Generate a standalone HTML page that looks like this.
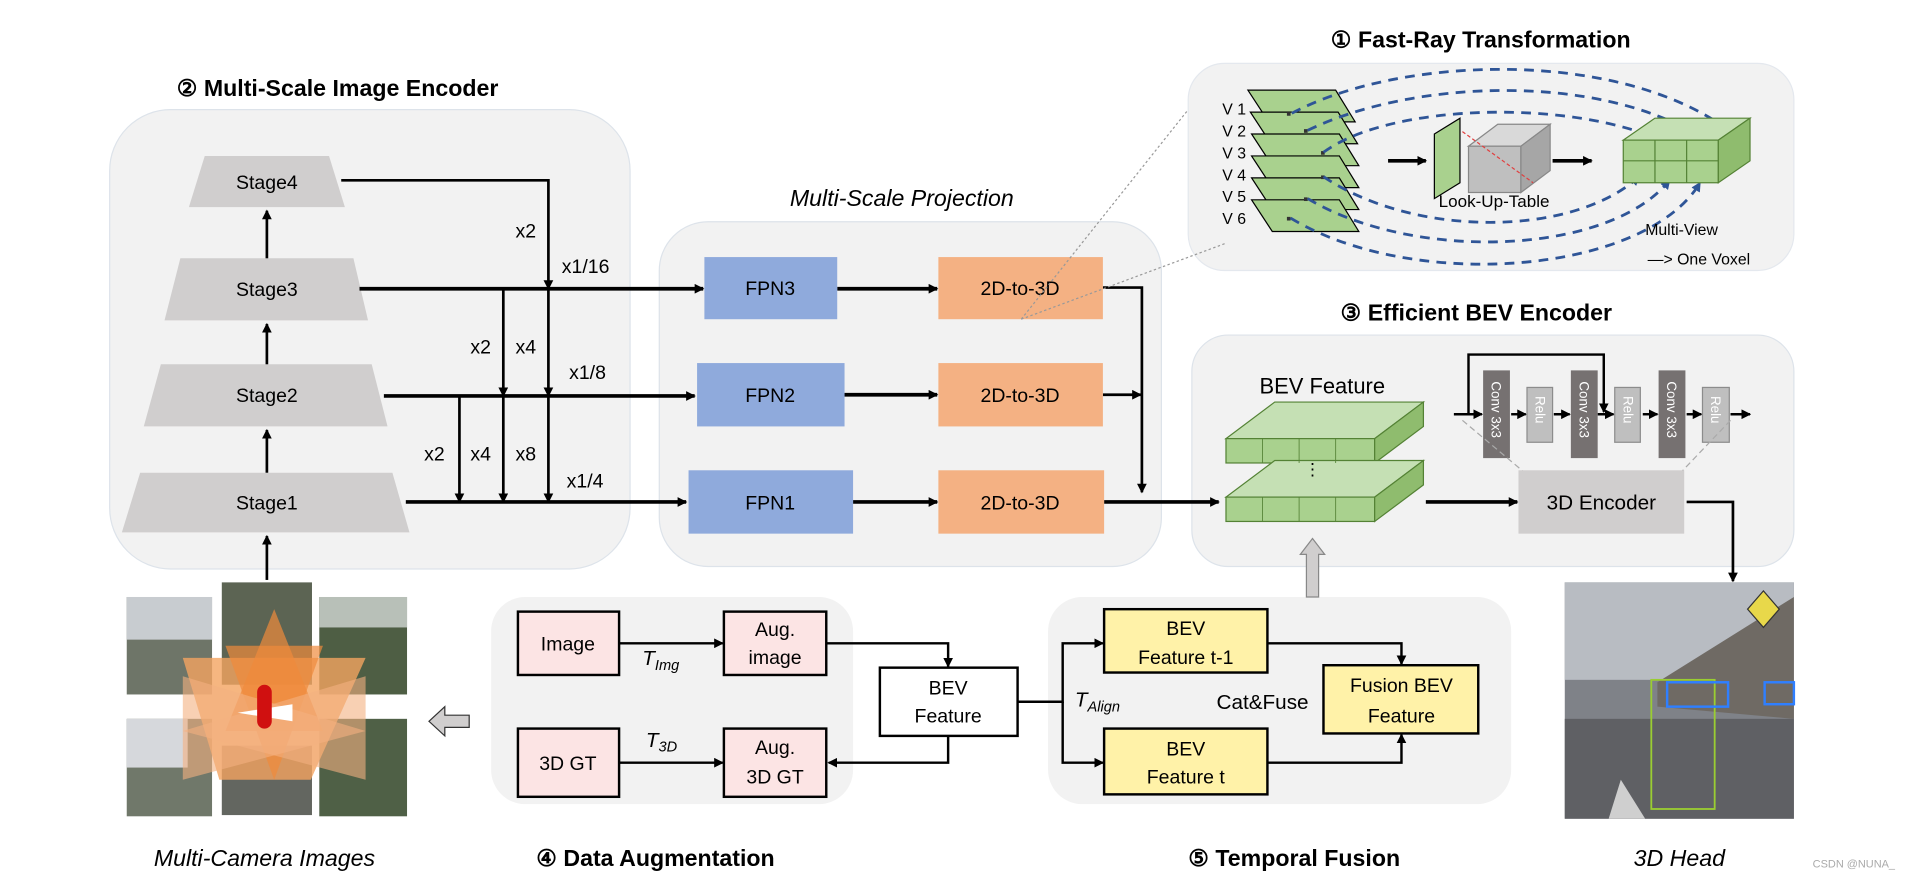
<!DOCTYPE html>
<html><head><meta charset="utf-8"><style>
html,body{margin:0;padding:0;background:#fff;}
svg{display:block}
text{font-family:"Liberation Sans",sans-serif;}
</style></head><body>
<svg width="1906" height="876" viewBox="0 0 1564 719" preserveAspectRatio="none" xmlns="http://www.w3.org/2000/svg">
<defs>
<marker id="a" markerWidth="8" markerHeight="8" refX="7" refY="4" orient="auto" markerUnits="userSpaceOnUse"><path d="M0,0 L8,4 L0,8 Z" fill="#000"/></marker>
<marker id="b" markerWidth="8" markerHeight="8" refX="7" refY="4" orient="auto" markerUnits="userSpaceOnUse"><path d="M0,0 L8,4 L0,8 Z" fill="#2f5597"/></marker>
</defs>
<!-- panels -->
<rect x="90" y="90" width="427" height="377" rx="50" fill="#f2f2f2" stroke="#dde3ea"/>
<rect x="541" y="182" width="412" height="283" rx="40" fill="#f2f2f2" stroke="#dde3ea"/>
<rect x="975" y="52" width="497" height="170" rx="30" fill="#f2f2f2" stroke="#e4e8ee"/>
<rect x="978" y="275" width="494" height="190" rx="30" fill="#f2f2f2" stroke="#dde3ea"/>
<rect x="403" y="490" width="297" height="170" rx="28" fill="#f2f2f2"/>
<rect x="860" y="490" width="380" height="170" rx="28" fill="#f2f2f2"/>

<!-- titles -->
<g font-weight="bold" font-size="19">
<text x="145" y="79">② Multi-Scale Image Encoder</text>
<text x="1092" y="39">① Fast-Ray Transformation</text>
<text x="1100" y="263">③ Efficient BEV  Encoder</text>
<text x="440" y="711">④ Data Augmentation</text>
<text x="975" y="711">⑤ Temporal Fusion</text>
</g>
<g font-style="italic" font-size="19">
<text x="740" y="169" text-anchor="middle">Multi-Scale Projection</text>
<text x="217" y="711" text-anchor="middle">Multi-Camera Images</text>
<text x="1378" y="711" text-anchor="middle">3D Head</text>
</g>
<text x="1555" y="712" font-size="9" fill="#aaa" text-anchor="end">CSDN @NUNA_</text>

<!-- stages -->
<g fill="#d0cece">
<polygon points="168,128 270,128 283,170 155,170"/>
<polygon points="148,212 290,212 302,263 135,263"/>
<polygon points="132,299 305,299 318,350 118,350"/>
<polygon points="115,388 322,388 336,437 100,437"/>
</g>
<g font-size="16" text-anchor="middle">
<text x="219" y="155">Stage4</text><text x="219" y="243">Stage3</text>
<text x="219" y="330">Stage2</text><text x="219" y="418">Stage1</text>
</g>
<g stroke="#000" stroke-width="2.2" fill="none" marker-end="url(#a)">
<line x1="219" y1="212" x2="219" y2="173"/>
<line x1="219" y1="299" x2="219" y2="266"/>
<line x1="219" y1="388" x2="219" y2="353"/>
<line x1="219" y1="476" x2="219" y2="440"/>
<polyline points="280,148 450,148 450,237"/>
<line x1="450" y1="237" x2="450" y2="325"/>
<line x1="450" y1="325" x2="450" y2="412"/>
<line x1="413" y1="237" x2="413" y2="325"/>
<line x1="413" y1="325" x2="413" y2="412"/>
<line x1="377" y1="325" x2="377" y2="412"/>
<line x1="295" y1="237" x2="577" y2="237" stroke-width="3"/>
<line x1="315" y1="325" x2="570" y2="325" stroke-width="3"/>
<line x1="333" y1="412" x2="563" y2="412" stroke-width="3"/>
<line x1="687" y1="237" x2="769" y2="237" stroke-width="3"/>
<line x1="693" y1="324" x2="769" y2="324" stroke-width="3"/>
<line x1="700" y1="412" x2="769" y2="412" stroke-width="3"/>
<polyline points="905,236 937,236 937,404"/>
<line x1="905" y1="324" x2="936" y2="324"/>
<line x1="906" y1="412" x2="1000" y2="412" stroke-width="3"/>
<line x1="1170" y1="412" x2="1245" y2="412" stroke-width="3"/>
<polyline points="1384,412 1422,412 1422,477"/>
</g>
<g font-size="16">
<text x="423" y="195">x2</text><text x="461" y="224">x1/16</text>
<text x="386" y="290">x2</text><text x="423" y="290">x4</text><text x="467" y="311">x1/8</text>
<text x="348" y="378">x2</text><text x="386" y="378">x4</text><text x="423" y="378">x8</text><text x="465" y="400">x1/4</text>
</g>

<!-- FPN / 2D-to-3D -->
<g fill="#8faadc">
<rect x="578" y="211" width="109" height="51"/><rect x="572" y="298" width="121" height="52"/><rect x="565" y="386" width="135" height="52"/>
</g>
<g fill="#f4b183">
<rect x="770" y="211" width="135" height="51"/><rect x="770" y="298" width="135" height="52"/><rect x="770" y="386" width="136" height="52"/>
</g>
<g font-size="16" text-anchor="middle">
<text x="632" y="242">FPN3</text><text x="632" y="330">FPN2</text><text x="632" y="418">FPN1</text>
<text x="837" y="242">2D-to-3D</text><text x="837" y="330">2D-to-3D</text><text x="837" y="418">2D-to-3D</text>
</g>
<line x1="838" y1="262" x2="975" y2="90" stroke="#999" stroke-dasharray="2,2"/>
<line x1="838" y1="262" x2="1005" y2="200" stroke="#999" stroke-dasharray="2,2"/>

<!-- Fast-Ray contents -->
<g font-size="13">
<text x="1003" y="94">V 1</text><text x="1003" y="112">V 2</text><text x="1003" y="130">V 3</text>
<text x="1003" y="148">V 4</text><text x="1003" y="166">V 5</text><text x="1003" y="184">V 6</text>
</g>
<g fill="#a9d18e" stroke="#000" stroke-width="1">
<polygon points="1024,74 1096,74 1112,100 1041,100"/>
<polygon points="1026,92 1098,92 1114,118 1043,118"/>
<polygon points="1027,110 1099,110 1115,136 1044,136"/>
<polygon points="1027,128 1099,128 1115,154 1044,154"/>
<polygon points="1027,146 1099,146 1115,172 1044,172"/>
<polygon points="1027,164 1099,164 1115,190 1044,190"/>
</g>
<g fill="#333"><rect x="1056" y="92" width="3" height="3"/><rect x="1070" y="106" width="3" height="3"/><rect x="1084" y="124" width="3" height="3"/><rect x="1084" y="144" width="3" height="3"/><rect x="1070" y="162" width="3" height="3"/><rect x="1056" y="178" width="3" height="3"/></g>
<g fill="none" stroke="#2f5597" stroke-width="2.3" stroke-dasharray="8,6">
<path d="M1060,93 C1150,45 1330,40 1420,108" marker-end="url(#b)"/>
<path d="M1073,107 C1160,65 1310,60 1395,112" marker-end="url(#b)"/>
<path d="M1086,125 C1140,85 1290,80 1370,118" marker-end="url(#b)"/>
<path d="M1086,145 C1160,195 1290,195 1345,145" marker-end="url(#b)"/>
<path d="M1073,163 C1160,215 1320,210 1370,148" marker-end="url(#b)"/>
<path d="M1059,179 C1160,240 1350,225 1395,150" marker-end="url(#b)"/>
</g>
<line x1="1139" y1="132" x2="1170" y2="132" stroke="#000" stroke-width="3" marker-end="url(#a)"/>
<line x1="1274" y1="132" x2="1306" y2="132" stroke="#000" stroke-width="3" marker-end="url(#a)"/>
<polygon points="1177,110 1198,97 1198,150 1177,163" fill="#a9d18e" stroke="#000"/>
<polygon points="1205,120 1248,120 1272,102 1229,102" fill="#d9d9d9" stroke="#888"/>
<rect x="1205" y="120" width="43" height="38" fill="#bfbfbf" stroke="#888"/>
<polygon points="1248,120 1272,102 1272,140 1248,158" fill="#a6a6a6" stroke="#888"/>
<line x1="1200" y1="108" x2="1258" y2="150" stroke="#e04040" stroke-dasharray="3,2"/>
<text x="1226" y="170" font-size="14" text-anchor="middle">Look-Up-Table</text>
<g stroke="#548235" stroke-width="1">
<polygon points="1332,115 1410,115 1436,97 1358,97" fill="#c5e0b4"/>
<rect x="1332" y="115" width="78" height="35" fill="#a9d18e"/>
<polygon points="1410,115 1436,97 1436,132 1410,150" fill="#8fbc6e"/>
<line x1="1358" y1="115" x2="1358" y2="150"/><line x1="1384" y1="115" x2="1384" y2="150"/><line x1="1332" y1="132" x2="1410" y2="132"/>
</g>
<text x="1350" y="193" font-size="13">Multi-View</text>
<text x="1352" y="217" font-size="13">—&gt; One Voxel</text>

<!-- BEV Encoder contents -->
<text x="1085" y="323" font-size="18" text-anchor="middle">BEV Feature</text>
<g stroke="#548235" stroke-width="1">
<polygon points="1006,360 1128,360 1168,330 1046,330" fill="#c5e0b4"/>
<rect x="1006" y="360" width="122" height="20" fill="#a9d18e"/>
<polygon points="1128,360 1168,330 1168,350 1128,380" fill="#8fbc6e"/>
<polygon points="1006,408 1128,408 1168,378 1046,378" fill="#c5e0b4"/>
<rect x="1006" y="408" width="122" height="20" fill="#a9d18e"/>
<polygon points="1128,408 1168,378 1168,398 1128,428" fill="#8fbc6e"/>
</g>
<text x="1077" y="390" font-size="14" text-anchor="middle">⋮</text>
<g stroke="#548235" stroke-width="0.7"><line x1="1036" y1="360" x2="1036" y2="380"/><line x1="1066" y1="360" x2="1066" y2="380"/><line x1="1096" y1="360" x2="1096" y2="380"/><line x1="1036" y1="408" x2="1036" y2="428"/><line x1="1066" y1="408" x2="1066" y2="428"/><line x1="1096" y1="408" x2="1096" y2="428"/></g>

<polyline points="1205,340 1205,291 1316,291 1316,338" fill="none" stroke="#000" stroke-width="2" marker-end="url(#a)"/>
<g stroke="#000" stroke-width="2" marker-end="url(#a)">
<line x1="1193" y1="340" x2="1216" y2="340"/><line x1="1240" y1="340" x2="1252" y2="340"/>
<line x1="1275" y1="340" x2="1288" y2="340"/><line x1="1311" y1="340" x2="1324" y2="340"/>
<line x1="1348" y1="340" x2="1360" y2="340"/><line x1="1384" y1="340" x2="1396" y2="340"/>
<line x1="1420" y1="340" x2="1436" y2="340"/>
</g>
<g fill="#767171"><rect x="1217" y="304" width="22" height="72"/><rect x="1289" y="304" width="22" height="72"/><rect x="1361" y="304" width="22" height="72"/></g>
<g fill="#bfbfbf" stroke="#8c8c8c"><rect x="1253" y="318" width="21" height="45"/><rect x="1325" y="318" width="21" height="45"/><rect x="1397" y="318" width="22" height="45"/></g>
<g fill="#fff" font-size="11">
<text transform="translate(1224,313) rotate(90)">Conv 3x3</text>
<text transform="translate(1296,313) rotate(90)">Conv 3x3</text>
<text transform="translate(1368,313) rotate(90)">Conv 3x3</text>
<text transform="translate(1260,325) rotate(90)">Relu</text>
<text transform="translate(1332,325) rotate(90)">Relu</text>
<text transform="translate(1404,325) rotate(90)">Relu</text>
</g>
<line x1="1200" y1="345" x2="1250" y2="387" stroke="#aaa" stroke-dasharray="5,3"/>
<line x1="1420" y1="345" x2="1380" y2="387" stroke="#aaa" stroke-dasharray="5,3"/>
<rect x="1246" y="386" width="136" height="52" fill="#d0cece"/>
<text x="1314" y="418" font-size="17" text-anchor="middle">3D Encoder</text>
<polygon points="1072,490 1072,455 1067,455 1077,442 1087,455 1082,455 1082,490" fill="#d0cece" stroke="#888"/>

<!-- 3D Head image -->
<rect x="1284" y="478" width="188" height="194" fill="#7f8288"/>
<rect x="1284" y="478" width="188" height="80" fill="#b8bcc2"/>
<polygon points="1360,560 1472,490 1472,590 1360,580" fill="#6f6a64"/>
<rect x="1284" y="590" width="188" height="82" fill="#5f6064"/>
<polygon points="1330,640 1350,672 1320,672" fill="#cfcfcf"/>
<rect x="1355" y="558" width="52" height="106" fill="none" stroke="#9acd32" stroke-width="1.5"/>
<rect x="1368" y="560" width="50" height="20" fill="none" stroke="#2f7fff" stroke-width="2"/>
<rect x="1448" y="560" width="24" height="18" fill="none" stroke="#2f7fff" stroke-width="2"/>
<polygon points="1447,485 1460,500 1447,515 1434,500" fill="#e8d84a" stroke="#333"/>

<!-- Multi camera -->
<rect x="104" y="490" width="70" height="80" fill="#6e7568"/>
<rect x="104" y="490" width="70" height="35" fill="#c8ccd0"/>
<rect x="262" y="490" width="72" height="80" fill="#4e5e44"/>
<rect x="262" y="490" width="72" height="25" fill="#b8c0b8"/>
<rect x="104" y="590" width="70" height="80" fill="#70786a"/>
<rect x="104" y="590" width="50" height="40" fill="#d6d8dc"/>
<rect x="262" y="590" width="72" height="80" fill="#4f6046"/>
<rect x="182" y="478" width="74" height="84" fill="#5c6453"/>
<rect x="182" y="612" width="74" height="57" fill="#636660"/>
<polygon points="150,540 300,540 255,640 180,640" fill="#f4a460" opacity="0.8"/>
<polygon points="225,500 265,600 185,600" fill="#f08a3c" opacity="0.7"/>
<polygon points="225,640 265,530 185,530" fill="#f08a3c" opacity="0.7"/>
<polygon points="150,555 300,600 150,640" fill="#f3b080" opacity="0.6"/>
<polygon points="300,555 150,600 300,640" fill="#f3b080" opacity="0.6"/>
<polygon points="195,585 240,578 240,592" fill="#fff"/>
<rect x="211" y="562" width="12" height="36" rx="6" fill="#d01010"/>
<polygon points="352,592 365,580 365,587 385,587 385,597 365,597 365,604" fill="#d0cece" stroke="#333"/>

<!-- Data Aug -->
<g fill="#fce4e4" stroke="#000" stroke-width="2">
<rect x="425" y="502" width="83" height="52"/><rect x="594" y="502" width="84" height="52"/>
<rect x="425" y="598" width="83" height="56"/><rect x="594" y="598" width="84" height="56"/>
</g>
<rect x="722" y="548" width="113" height="56" fill="#fff" stroke="#000" stroke-width="2"/>
<g font-size="16" text-anchor="middle">
<text x="466" y="534">Image</text><text x="636" y="522">Aug.</text><text x="636" y="545">image</text>
<text x="466" y="632">3D GT</text><text x="636" y="619">Aug.</text><text x="636" y="643">3D GT</text>
<text x="778" y="570">BEV</text><text x="778" y="593">Feature</text>
</g>
<g font-style="italic" font-size="17">
<text x="527" y="546" font-family="Liberation Serif">T<tspan font-size="12" dy="4">Img</tspan></text>
<text x="530" y="613" font-family="Liberation Serif">T<tspan font-size="12" dy="4">3D</tspan></text>
<text x="882" y="580" font-family="Liberation Serif">T<tspan font-size="12" dy="4">Align</tspan></text>
</g>
<g stroke="#000" stroke-width="2" fill="none" marker-end="url(#a)">
<line x1="508" y1="528" x2="593" y2="528"/>
<line x1="508" y1="626" x2="593" y2="626"/>
<polyline points="678,528 778,528 778,547"/>
<polyline points="778,604 778,626 680,626"/>
<polyline points="835,576 872,576 872,528 905,528"/>
<polyline points="872,576 872,626 905,626"/>
<polyline points="1040,528 1150,528 1150,545"/>
<polyline points="1040,626 1150,626 1150,603"/>
</g>
<!-- Temporal -->
<g fill="#fff2a8" stroke="#000" stroke-width="2">
<rect x="906" y="500" width="134" height="52"/><rect x="906" y="598" width="134" height="54"/><rect x="1086" y="546" width="127" height="56"/>
</g>
<g font-size="16" text-anchor="middle">
<text x="973" y="521">BEV</text><text x="973" y="545">Feature t-1</text>
<text x="973" y="620">BEV</text><text x="973" y="643">Feature t</text>
<text x="1150" y="568">Fusion BEV</text><text x="1150" y="593">Feature</text>
</g>
<text x="1036" y="582" font-family="Liberation Serif" font-size="17" text-anchor="middle">Cat&amp;Fuse</text>
</svg>
</body></html>
